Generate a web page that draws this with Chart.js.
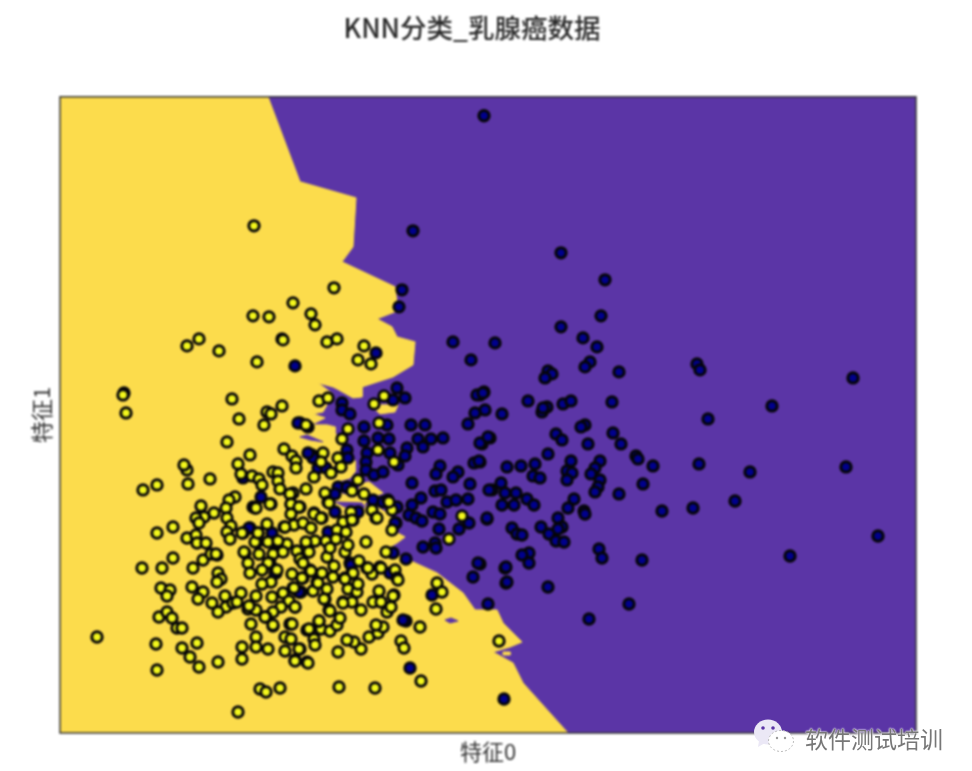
<!DOCTYPE html>
<html><head><meta charset="utf-8">
<script src="https://cdn.jsdelivr.net/npm/chart.js@4/dist/chart.umd.min.js"></script>
<style>
html,body{margin:0;padding:0;background:#fff;overflow:hidden}
#wrap{position:relative;width:972px;height:771px}
canvas{filter:blur(0.8px)}
#mark{position:absolute;left:805px;top:724px;font:23px/28px "Noto Sans CJK SC";color:#777;letter-spacing:0;white-space:nowrap;text-shadow:0 0 2px #fff,0 0 2px #fff;filter:blur(0.5px)}
#icon{position:absolute;left:752px;top:716px;filter:blur(0.5px)}
</style></head><body>
<div id="wrap"><canvas id="c" width="972" height="771"></canvas>
<svg id="icon" width="46" height="42"><ellipse cx="16" cy="16" rx="14" ry="12.5" fill="#ebe8f6"/><path d="M7 25l-1 6 7-4z" fill="#ebe8f6"/><circle cx="11" cy="12" r="1.8" fill="#5b35a6"/><circle cx="21" cy="12" r="1.8" fill="#5b35a6"/><ellipse cx="29" cy="25" rx="12.5" ry="10.5" fill="#fff" stroke="#bbb" stroke-dasharray="2 2"/><circle cx="25" cy="22" r="1.2" fill="#999"/><circle cx="33" cy="22" r="1.2" fill="#999"/></svg>
<div id="mark">软件测试培训</div></div>
<script>
const chartTitle = "KNN分类_乳腺癌数据";
const xLabel = "特征0";
const yLabel = "特征1";
const xRange = [60, 916];
const yRange = [97, 733];

const class0Points = [
[484,116],[413,231],[561,253],[605,280],[402,290],[399,307],[601,316],[561,327],[583,338],[453,342],[495,343],[597,347],[376,353],[471,360],[295,366],
[590,362],[585,367],[619,372],[548,371],[552,374],[545,378],[697,364],[700,370],[853,378],[772,406],[708,419],[528,401],[484,392],[480,395],[485,410],[502,414],
[547,407],[542,412],[543,408],[563,404],[571,401],[612,402],[585,425],[581,427],[556,434],[562,440],[613,433],[621,444],[588,444],[490,438],[482,444],[548,454],
[636,456],[638,459],[653,466],[699,464],[750,472],[846,467],[571,461],[600,461],[595,468],[567,471],[572,473],[591,474],[600,480],[567,480],[535,464],[521,466],[507,467],[480,462],
[533,476],[540,478],[598,487],[595,492],[643,484],[619,494],[501,483],[492,490],[505,493],[516,493],[527,499],[534,505],[502,505],[514,505],[574,499],[568,508],[584,511],[585,514],
[662,511],[693,508],[735,501],[487,519],[558,518],[562,527],[558,529],[541,527],[549,534],[556,541],[564,542],[512,528],[517,534],[522,535],[878,536],[790,556],[599,549],[602,558],[642,560],
[529,553],[522,555],[529,563],[505,568],[480,564],[506,583],[548,587],[488,604],[629,604],[589,619],
[397,388],[405,398],[393,400],[342,403],[342,410],[350,414],[300,423],[308,427],[477,395],[483,393],[475,413],[468,424],[364,427],[387,425],[411,425],[425,425],
[364,441],[378,438],[389,439],[418,439],[431,439],[443,438],[423,447],[407,448],[480,443],[488,437],[347,450],[312,455],[313,458],[348,458],[367,453],[366,462],[390,453],[405,456],[398,465],
[474,463],[479,461],[440,466],[436,474],[458,472],[453,477],[470,484],[318,468],[326,468],[366,470],[374,475],[383,472],[412,483],[338,487],[347,487],[335,494],[435,491],[441,490],
[421,498],[447,502],[456,500],[468,499],[489,490],[373,500],[383,502],[397,507],[412,505],[335,512],[358,512],[409,515],[416,518],[422,521],[433,512],[440,514],[439,529],[459,529],[469,523],[487,518],
[396,523],[423,547],[435,543],[436,548],[406,559],[393,553],[478,563],[350,563],[390,573],[300,592],[432,595],[406,621],[410,668],[504,699],[473,577],[506,567],[507,582],
[298,423],[261,497],[250,528],[272,533],[275,543],[276,573],[301,592],[243,478],[253,507],[308,453],[217,555],[249,528],[275,542],[275,573],[299,592],[328,532],[351,565],[395,523],[403,620],[271,504]
];

const class1Points = [
[254,226],[334,288],[293,303],[253,316],[269,317],[311,314],[315,325],[282,339],[283,340],[327,342],[337,339],[364,346],[358,360],[371,364],[187,346],[199,339],[219,351],[257,362],[124,393],[123,395],[126,413],
[232,399],[282,406],[239,419],[267,412],[271,414],[319,401],[328,398],[374,404],[384,396],[264,425],[306,425],[348,429],[379,423],[342,439],[378,450],[394,462],[227,442],[250,455],[284,449],[292,456],
[296,461],[296,468],[238,464],[241,474],[252,476],[259,479],[262,485],[273,472],[278,473],[278,481],[280,489],[187,470],[184,465],[188,484],[210,479],[157,485],[143,490],
[323,453],[338,458],[321,462],[341,467],[331,473],[314,477],[358,480],[352,491],[306,489],[325,493],[364,494],[388,500],[328,502],[293,493],[290,494],[291,504],[300,507],
[372,510],[392,510],[376,518],[353,520],[351,512],[314,513],[322,518],[343,522],[462,516],[392,530],[449,539],[366,542],[386,552],[337,530],[346,532],[294,525],[303,523],[311,528],[315,541],[306,542],
[326,541],[336,539],[345,552],[297,551],[309,552],[300,559],[327,557],[334,566],[359,561],[348,545],[380,567],[395,570],[367,568],[310,570],[372,574],[381,568],[352,573],
[235,497],[229,500],[226,508],[255,508],[270,504],[201,506],[214,513],[204,517],[196,518],[199,523],[227,518],[231,526],[173,527],[157,533],[187,538],[196,535],[197,543],[206,543],[227,532],[230,539],
[243,533],[258,533],[267,524],[257,542],[268,542],[284,527],[287,544],[273,554],[259,554],[245,553],[173,558],[142,568],[162,568],[193,568],[203,560],[211,554],[216,554],[218,573],[221,579],[217,582],
[248,563],[250,573],[270,563],[268,563],[292,574],[303,578],[161,588],[170,590],[167,596],[192,587],[203,592],[198,599],[241,593],[225,596],[212,603],[226,607],[233,603],[218,612],[248,609],[256,596],
[272,597],[283,593],[271,582],[262,584],[293,588],[295,607],[289,601],[281,607],[273,612],[266,617],[256,610],[251,624],[273,626],[290,624],[159,617],[167,612],[172,618],[177,628],[182,628],
[97,637],[156,644],[182,648],[197,643],[190,657],[199,667],[157,670],[218,662],[242,647],[256,637],[256,647],[268,649],[242,659],[285,637],[285,651],[300,649],[295,660],[307,662],[307,630],
[260,689],[266,692],[280,688],[238,712],[437,583],[442,592],[436,609],[420,627],[401,641],[404,648],[421,681],[375,688],[339,687],[499,641],[308,663],[295,661],[299,649],[338,652],[361,649],[354,642],
[347,640],[369,637],[378,633],[383,627],[376,625],[314,639],[315,645],[309,629],[321,629],[319,621],[330,631],[337,625],[340,618],[292,624],[291,639],[387,612],[391,607],[373,602],[381,602],[394,595],
[379,591],[329,610],[343,602],[352,602],[325,599],[313,591],[327,589],[348,589],[357,592],[358,584],[295,607],[294,588],[302,578],[317,582],[333,577],[345,578],[353,573],[397,578],[398,580],
[256,508],[291,504],[299,507],[291,514],[314,514],[321,518],[352,520],[377,518],[389,502],[329,503],[242,533],[285,527],[311,571],[368,568],[237,602],[249,606],[265,617],[393,596],[324,599],[330,611],
[303,563],[345,579],[343,603],[273,625],[319,621],[255,542],[258,533],[244,552],[278,541],[330,548],[318,583],[361,610],[277,570],[283,552],[262,570],[322,573]
];

const class1Region = [[60,97],[268,97],[300,182],[356,198],[353,247],[342,262],[395,287],[397,303],[395,312],[377,319],[392,327],[397,337],[415,342],[413,365],[393,377],[362,387],[362,397],[353,398],[337,389],[333,387],[318,383],[333,394],[328,403],[323,412],[313,414],[325,418],[311,425],[327,425],[335,427],[335,432],[339,441],[345,450],[355,461],[355,472],[350,478],[336,482],[333,490],[345,495],[358,492],[361,484],[369,482],[383,493],[370,498],[363,506],[377,507],[387,513],[393,520],[392,530],[405,537],[397,543],[390,547],[400,557],[413,562],[437,573],[450,583],[463,593],[475,610],[497,610],[503,623],[522,642],[510,647],[493,652],[513,663],[523,683],[568,733],[60,733],[60,97]];
const class0IslandA = [[300,437],[307,435],[323,442],[310,440],[300,437]];
const class0IslandB = [[445,620],[451,618],[458,621],[450,623],[445,620]];
const class0IslandC = [[335,502],[362,503],[365,508],[345,507],[335,502]];
const class1IslandA = [[370,405],[398,405],[395,412],[380,414],[370,405]];
const class1IslandB = [[503,652],[510,652],[510,655],[503,655],[503,652]];

const YELLOW="#fcdc4c", PURPLE="#5b35a6";
const toXY = a => a.map(p => ({x:p[0], y:p[1]}));
const regionDs = (pts, col, order) => ({type:"scatter", data:toXY(pts), showLine:true, fill:"shape", backgroundColor:col, borderColor:col, borderWidth:1, pointRadius:0, tension:0, order});
const dotDs = (pts, fill, order) => ({type:"scatter", data:toXY(pts), backgroundColor:fill, borderColor:"#050508", borderWidth:3, pointRadius:5.2, pointHoverRadius:5.2, order});

const backdrop = {id:"backdrop", beforeDatasetsDraw(c){const a=c.chartArea,x=c.ctx;x.save();x.fillStyle=PURPLE;x.fillRect(a.left,a.top,a.width,a.height);x.restore();},
 afterDatasetsDraw(c){const a=c.chartArea,x=c.ctx;x.save();x.strokeStyle="#333";x.lineWidth=1.5;x.strokeRect(a.left,a.top,a.width,a.height);x.restore();}};

new Chart(document.getElementById("c"),{
 type:"scatter",
 data:{datasets:[
  regionDs(class1Region,YELLOW,10),
  regionDs(class0IslandA,PURPLE,9),regionDs(class0IslandB,PURPLE,9),regionDs(class0IslandC,PURPLE,9),
  regionDs(class1IslandA,YELLOW,9),regionDs(class1IslandB,YELLOW,9),
  dotDs(class0Points,"#00008c",2),
  dotDs(class1Points,"#f4f81c",1)
 ]},
 plugins:[backdrop],
 options:{
  responsive:false,animation:false,
  layout:{padding:{left:28,right:56,top:12,bottom:6}},
  plugins:{legend:{display:false},tooltip:{enabled:false},
   title:{display:true,text:chartTitle,color:"#2a2a2a",font:{family:'"Noto Sans CJK SC"',size:26.5,weight:500},padding:{top:0,bottom:53}}},
  scales:{
   x:{type:"linear",min:xRange[0],max:xRange[1],afterFit(s){s.height=32;},ticks:{display:false},grid:{display:false},border:{display:false},
      title:{display:true,text:xLabel,color:"#333",font:{family:'"Noto Sans CJK SC"',size:22},padding:{top:5,bottom:0}}},
   y:{type:"linear",min:yRange[0],max:yRange[1],reverse:true,afterFit(s){s.width=32;},ticks:{display:false},grid:{display:false},border:{display:false},
      title:{display:true,text:yLabel,color:"#333",font:{family:'"Noto Sans CJK SC"',size:22},padding:{top:0,bottom:5}}}
  }
 }
});
</script></body></html>
